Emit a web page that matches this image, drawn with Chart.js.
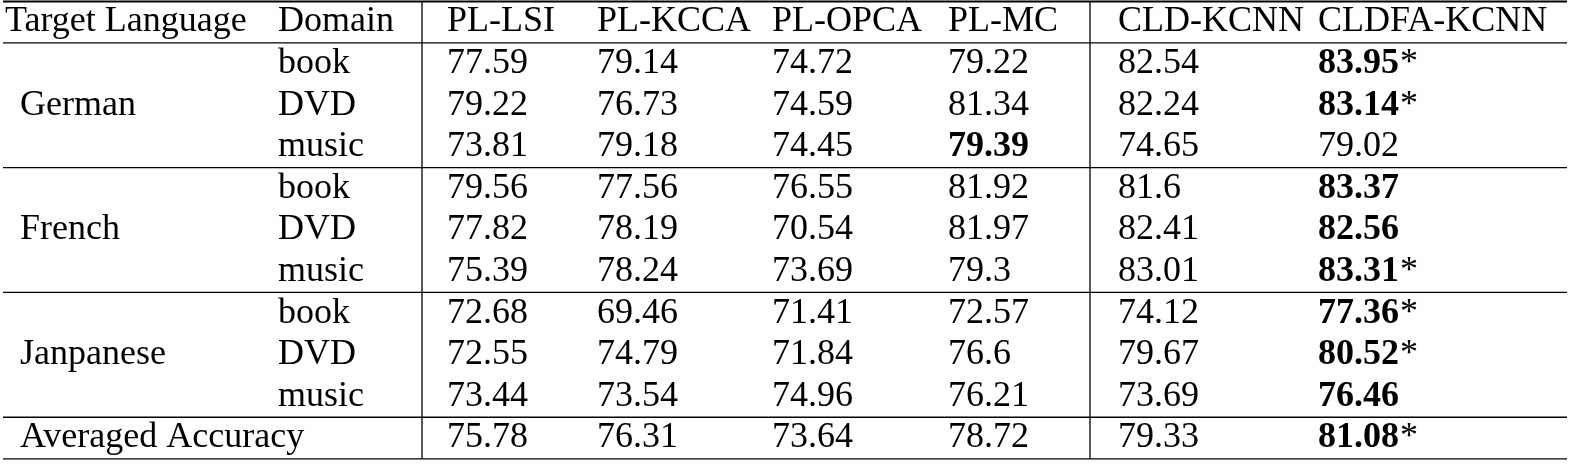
<!DOCTYPE html>
<html><head><meta charset="utf-8">
<script src="https://cdn.jsdelivr.net/npm/chart.js@4"></script>
<style>html,body{margin:0;padding:0;background:#fff}#w{width:1571px;height:468px}</style>
</head><body><div id="w"><canvas id="c"></canvas></div>
<script>
const headers = ["Target Language","Domain","PL-LSI","PL-KCCA","PL-OPCA","PL-MC","CLD-KCNN","CLDFA-KCNN"];
const languages = ["German","French","Janpanese"];
const domains = ["book","DVD","music"];
const plLSI   = ["77.59","79.22","73.81","79.56","77.82","75.39","72.68","72.55","73.44","75.78"];
const plKCCA  = ["79.14","76.73","79.18","77.56","78.19","78.24","69.46","74.79","73.54","76.31"];
const plOPCA  = ["74.72","74.59","74.45","76.55","70.54","73.69","71.41","71.84","74.96","73.64"];
const plMC    = ["79.22","81.34","79.39","81.92","81.97","79.3","72.57","76.6","76.21","78.72"];
const cldKCNN = ["82.54","82.24","74.65","81.6","82.41","83.01","74.12","79.67","73.69","79.33"];
const cldfa   = ["83.95","83.14","79.02","83.37","82.56","83.31","77.36","80.52","76.46","81.08"];
const bestCol = [5,5,3,5,5,5,5,5,5,5];
const starred = [1,1,0,0,0,1,1,1,0,1];
const avgLabel = "Averaged Accuracy";

const valueCols = [plLSI,plKCCA,plOPCA,plMC,cldKCNN,cldfa];
const colX = [5,278,447,597,772,948,1118,1318];
const FONT = "36px 'Liberation Serif', 'Times New Roman', serif";
const BFONT = "bold 36px 'Liberation Serif', 'Times New Roman', serif";

const tablePlugin = {
  id:'table',
  afterDraw(chart){
    const {ctx, scales:{x,y}} = chart;
    ctx.save();
    ctx.fillStyle='#000'; ctx.textBaseline='middle'; ctx.textAlign='left';
    const X = v=>x.getPixelForValue(v), Y = v=>y.getPixelForValue(v);
    ctx.font=FONT;
    headers.forEach((h,i)=>ctx.fillText(h,X(colX[i]),Y(0)));
    for(let r=0;r<10;r++){
      const ry=Y(r+1);
      if(r<9){
        if(r%3===1) ctx.fillText(languages[Math.floor(r/3)],X(20),ry);
        ctx.fillText(domains[r%3],X(colX[1]),ry);
      } else ctx.fillText(avgLabel,X(20),ry);
      valueCols.forEach((col,c)=>{
        const bold = bestCol[r]===c;
        ctx.font = bold?BFONT:FONT;
        ctx.fillText(col[r],X(colX[c+2]),ry);
        if(bold && starred[r]){
          const w=ctx.measureText(col[r]).width;
          ctx.font=FONT; ctx.fillText("*",X(colX[c+2])+w+1,ry);
        }
        ctx.font=FONT;
      });
    }
    ctx.strokeStyle='#000';
    const hl=(k,lw)=>{ctx.lineWidth=lw;ctx.beginPath();ctx.moveTo(X(3),Y(k));ctx.lineTo(X(1567),Y(k));ctx.stroke();};
    hl(-0.49,2); hl(0.5,1.3); hl(3.5,1.3); hl(6.5,1.3); hl(9.5,1.3); hl(10.5,1.3);
    ctx.lineWidth=1.3;
    [422,1090].forEach(v=>{ctx.beginPath();ctx.moveTo(X(v),Y(-0.49));ctx.lineTo(X(v),Y(10.5));ctx.stroke();});
    ctx.restore();
  }
};

new Chart(document.getElementById('c'),{
  type:'scatter',
  data:{datasets:[{data:[]}]},
  options:{
    responsive:true, maintainAspectRatio:false, animation:false,
    layout:{padding:0},
    plugins:{legend:{display:false},tooltip:{enabled:false}},
    scales:{
      x:{type:'linear',min:0,max:1571,display:false},
      y:{type:'linear',min:-0.529,max:10.72,reverse:true,display:false}
    }
  },
  plugins:[tablePlugin]
});
</script></body></html>
